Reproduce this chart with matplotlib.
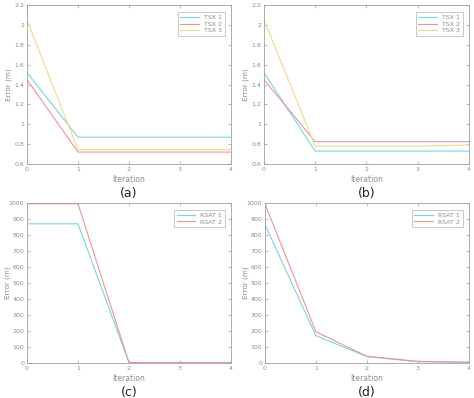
import matplotlib
matplotlib.use("Agg")
import matplotlib.pyplot as plt

iterations = [0, 1, 2, 3, 4]

# Panel (a)
a_tsx1 = [1.52, 0.87, 0.87, 0.87, 0.87]
a_tsx2 = [1.45, 0.72, 0.72, 0.72, 0.72]
a_tsx3 = [2.05, 0.745, 0.745, 0.745, 0.745]
# Panel (b)
b_tsx1 = [1.52, 0.73, 0.73, 0.73, 0.73]
b_tsx2 = [1.45, 0.825, 0.825, 0.825, 0.825]
b_tsx3 = [2.05, 0.78, 0.78, 0.78, 0.79]
# Panel (c)
c_rsat1 = [870, 870, 3, 3, 3]
c_rsat2 = [995, 995, 3, 3, 3]
# Panel (d)
d_rsat1 = [865, 170, 40, 8, 4]
d_rsat2 = [995, 195, 42, 10, 5]

tsx_labels = ["TSX 1", "TSX 2", "TSX 3"]
rsat_labels = ["RSAT 1", "RSAT 2"]
panel_labels = ["(a)", "(b)", "(c)", "(d)"]

c_cyan = "#72d8e2"
c_red = "#f29393"
c_yel = "#f6d888"
gray = "#8c8c8c"

fig = plt.figure(figsize=(4.74, 3.98), dpi=100)
pos = [
    [0.057, 0.588, 0.430, 0.399],
    [0.557, 0.588, 0.432, 0.399],
    [0.057, 0.088, 0.430, 0.402],
    [0.559, 0.088, 0.430, 0.402],
]
ylabel_x = [-0.074, -0.074, -0.080, -0.080]

def style(ax):
    for s in ax.spines.values():
        s.set_color("#a0a0a0")
        s.set_linewidth(0.6)
    ax.tick_params(direction="in", length=2, width=0.5, colors="#a0a0a0",
                   labelcolor=gray, labelsize=4.5, top=True, right=True, pad=2)
    ax.set_xlim(0, 4)
    ax.set_xticks(iterations)
    ax.set_xlabel("Iteration", fontsize=5.5, color=gray, labelpad=2)
    ax.set_ylabel("Error (m)", fontsize=5.2, color=gray)

data_sets = [
    ([a_tsx1, a_tsx2, a_tsx3], [c_cyan, c_red, c_yel], tsx_labels),
    ([b_tsx1, b_tsx2, b_tsx3], [c_cyan, c_red, c_yel], tsx_labels),
    ([c_rsat1, c_rsat2], [c_cyan, c_red], rsat_labels),
    ([d_rsat1, d_rsat2], [c_cyan, c_red], rsat_labels),
]

for i, (p, (series, cols, labs)) in enumerate(zip(pos, data_sets)):
    ax = fig.add_axes(p)
    for s, c, l in zip(series, cols, labs):
        ax.plot(iterations, s, color=c, lw=0.8, label=l)
    style(ax)
    ax.yaxis.set_label_coords(ylabel_x[i], 0.5)
    if i < 2:
        ax.set_ylim(0.6, 2.2)
        ax.set_yticks([0.6, 0.8, 1, 1.2, 1.4, 1.6, 1.8, 2, 2.2])
        ax.set_yticklabels(["0.6", "0.8", "1", "1.2", "1.4", "1.6", "1.8", "2", "2.2"])
    else:
        ax.set_ylim(0, 1000)
        ax.set_yticks(range(0, 1001, 100))
    leg = ax.legend(loc="upper right", fontsize=4.5, frameon=True, fancybox=False,
                    handlelength=3.0, borderpad=0.4, labelspacing=0.2,
                    bbox_to_anchor=(0.985, 0.975))
    leg.get_frame().set_edgecolor("#a0a0a0")
    leg.get_frame().set_linewidth(0.5)
    for t in leg.get_texts():
        t.set_color(gray)
    cx = p[0] + p[2] / 2
    fig.text(cx, p[1] - 0.075, panel_labels[i], ha="center", va="center",
             fontsize=9, color="#222222")

fig.savefig("out.png", dpi=100)
